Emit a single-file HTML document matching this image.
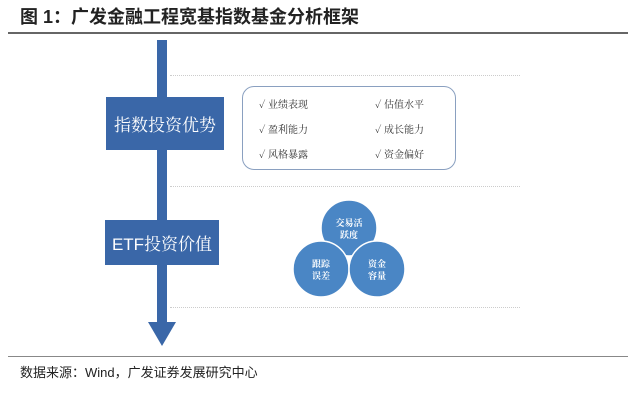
<!DOCTYPE html>
<html><head><meta charset="utf-8"><style>
body{margin:0;width:640px;height:403px;background:#fff;position:relative;overflow:hidden;font-family:"Liberation Sans","Noto Sans CJK SC",sans-serif}
.a{position:absolute}
</style></head><body>
<div class="a" style="left:20px;top:3px;font-size:18px;font-weight:bold;color:#222">图 1：广发金融工程宽基指数基金分析框架</div>
<div class="a" style="left:8px;top:32px;width:620px;height:2px;background:#666"></div>
<div class="a" style="left:170px;top:75px;width:350px;border-top:1px dotted #ccc"></div>
<div class="a" style="left:170px;top:186px;width:350px;border-top:1px dotted #ccc"></div>
<div class="a" style="left:170px;top:307px;width:350px;border-top:1px dotted #ccc"></div>
<div class="a" style="left:157px;top:40px;width:10px;height:284px;background:#3a67a8"></div>
<svg class="a" style="left:148px;top:322px" width="28" height="24"><polygon points="0,0 28,0 14,24" fill="#3a67a8"/></svg>
<div class="a" style="left:106px;top:97px;width:118px;height:53px;background:#3a67a8;color:#fff;font-size:17px;line-height:53px;text-align:center;font-family:'Noto Serif CJK SC',serif">指数投资优势</div>
<div class="a" style="left:105px;top:220px;width:114px;height:45px;background:#3a67a8;color:#fff;font-size:17px;line-height:45px;text-align:center">ETF<span style="font-family:'Noto Serif CJK SC',serif">投资价值</span></div>
<div class="a" style="left:242px;top:86px;width:212px;height:82px;border:1px solid #8aa0c0;border-radius:12px;font-family:'Noto Serif CJK SC',serif;font-size:10px;color:#333">
<div class="a" style="left:16px;top:9px">✓ 业绩表现</div><div class="a" style="left:132px;top:9px">✓ 估值水平</div>
<div class="a" style="left:16px;top:34px">✓ 盈利能力</div><div class="a" style="left:132px;top:34px">✓ 成长能力</div>
<div class="a" style="left:16px;top:59px">✓ 风格暴露</div><div class="a" style="left:132px;top:59px">✓ 资金偏好</div>
</div>
<svg class="a" style="left:0;top:0" width="640" height="403" font-family="Noto Serif CJK SC,serif" font-size="9" fill="#fff" text-anchor="middle" font-weight="bold">
<circle cx="349" cy="228" r="28" fill="#4a86c5" stroke="#fff" stroke-width="1.5"/>
<circle cx="321" cy="269" r="28" fill="#4a86c5" stroke="#fff" stroke-width="1.5"/>
<circle cx="377" cy="269" r="28" fill="#4a86c5" stroke="#fff" stroke-width="1.5"/>
<text x="349" y="226">交易活</text><text x="349" y="238">跃度</text>
<text x="321" y="267">跟踪</text><text x="321" y="279">误差</text>
<text x="377" y="267">资金</text><text x="377" y="279">容量</text>
</svg>
<div class="a" style="left:8px;top:356px;width:620px;height:1px;background:#888"></div>
<div class="a" style="left:20px;top:362px;font-size:13px;color:#222">数据来源：Wind，广发证券发展研究中心</div>
</body></html>
